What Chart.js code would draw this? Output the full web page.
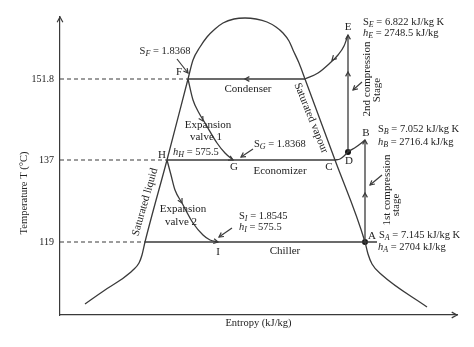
<!DOCTYPE html>
<html><head><meta charset="utf-8">
<script src="https://cdn.jsdelivr.net/npm/chart.js@4.4.0/dist/chart.umd.min.js"></script>
<style>html,body{margin:0;padding:0;background:#fff}</style>
</head><body>
<canvas id="c" width="474" height="347"></canvas>
<script>
// Schematic T–s diagram (schematic units: entropy axis 0–397, temperature axis 0–298)
const tempTickPos = [73, 155, 236];
const tempTickLabels = ['119', '137', '151.8'];

// saturation dome (saturated liquid -> critical region -> saturated vapour)
const domeS = [25, 45, 62, 73, 79, 82, 85, 107, 128, 133, 140, 147, 155, 163, 174, 185, 196, 207, 216, 223, 229, 233, 239, 245, 275, 305, 308, 312, 322, 367];
const domeT = [11, 25, 36, 45, 52, 60, 73, 155, 236, 255, 268, 278, 286, 292, 296, 297, 296, 293, 288, 282, 274, 265, 252, 236, 155, 73, 61, 51, 40, 8];

// process lines
const condenserS = [128, 245];   const condenserT = [236, 236];
const economizerS = [107, 275];  const economizerT = [155, 155];
const chillerS = [85, 317];      const chillerT = [73, 73];
const valve1S = [128, 133, 139, 145, 157, 165, 173];
const valve1T = [236, 215, 202, 192, 172, 162, 155];
const valve2S = [107, 111, 115, 122, 133, 143, 150, 158];
const valve2T = [155, 140, 125, 112, 92, 80, 75, 73];
const mixS = [275, 280, 284, 288, 296, 305];
const mixT = [155, 156, 159, 163, 168, 175];
const desupS = [245, 258, 270, 278, 284, 288];
const desupT = [236, 242, 252, 260, 269, 280];
const comp2S = [288, 288]; const comp2T = [163, 280];
const comp1S = [305, 305]; const comp1T = [73, 175];
const dotS = [288, 305];   const dotT = [163, 73];

const LINE = '#3a3a3a';
const SERIF = '"Liberation Serif", "Times New Roman", serif';
const pts = (xs, ys) => xs.map((v, i) => ({x: v, y: ys[i]}));
const line = (xs, ys, extra) => Object.assign({
  data: pts(xs, ys), showLine: true, pointRadius: 0, borderColor: LINE,
  borderWidth: 1.3, tension: 0, fill: false
}, extra || {});
const curve = {cubicInterpolationMode: 'monotone'};
const dash = {borderDash: [4, 3], borderWidth: 1.1};

function head(ctx, x, y, dx, dy, size) {
  const a = Math.atan2(dy, dx), s = size || 5;
  ctx.beginPath();
  ctx.moveTo(x - s * Math.cos(a - 0.5), y - s * Math.sin(a - 0.5));
  ctx.lineTo(x, y);
  ctx.lineTo(x - s * Math.cos(a + 0.5), y - s * Math.sin(a + 0.5));
  ctx.stroke();
}
function rich(ctx, parts, x, y, align, size) {
  const fnt = (p) => (p[1] === 's' ? 'italic ' + Math.round(size * 0.72) : (p[1] === 'i' ? 'italic ' + size : size)) + 'px ' + SERIF;
  let w = 0;
  parts.forEach(p => { ctx.font = fnt(p); w += ctx.measureText(p[0]).width; });
  let cx = align === 'center' ? x - w / 2 : (align === 'right' ? x - w : x);
  ctx.textAlign = 'left';
  parts.forEach(p => {
    ctx.font = fnt(p);
    ctx.fillText(p[0], cx, y + (p[1] === 's' ? 3 : 0));
    cx += ctx.measureText(p[0]).width;
  });
}

const annot = {
  id: 'annot',
  afterDatasetsDraw(chart) {
    const ctx = chart.ctx, xs = chart.scales.x, ys = chart.scales.y;
    const X = v => xs.getPixelForValue(v), Y = v => ys.getPixelForValue(v);
    const ca = chart.chartArea;
    ctx.save();
    ctx.strokeStyle = LINE; ctx.fillStyle = '#222'; ctx.lineWidth = 1.2;
    // axis arrows
    head(ctx, ca.left, ca.top, 0, -1, 6);
    head(ctx, ca.right, ca.bottom, 1, 0, 6);
    // flow arrowheads
    head(ctx, X(185), Y(236), -1, 0, 5);
    head(ctx, X(272), Y(255), -1, 1, 5);
    head(ctx, X(288), Y(280), 0, -1, 5);
    head(ctx, X(288), Y(243), 0, -1, 5);
    head(ctx, X(305), Y(122), 0, -1, 5);
    head(ctx, X(305), Y(175), 0, -1, 5);
    head(ctx, X(143), Y(194), 6, 10, 5);
    head(ctx, X(173), Y(155), 1, 0.5, 5);
    head(ctx, X(122), Y(112), 7, 13, 5);
    head(ctx, X(158), Y(73), 1, 0.2, 5);
    // pointer arrows
    const ptr = (a, b, c, d) => {
      ctx.beginPath(); ctx.moveTo(X(a), Y(b)); ctx.lineTo(X(c), Y(d)); ctx.stroke();
      head(ctx, X(c), Y(d), X(c) - X(a), Y(d) - Y(b), 5);
    };
    ptr(117, 256, 128, 242);
    ptr(193, 166, 181, 158);
    ptr(172, 87, 159, 78);
    ptr(302, 233, 293, 225);
    ptr(322, 140, 310, 130);
    ctx.textBaseline = 'middle';
    const sz = 10.5;
    const T = (t, a, b, align, size, style) => {
      ctx.font = (style || '') + ' ' + (size || 11) + 'px ' + SERIF;
      ctx.textAlign = align || 'center';
      ctx.fillText(t, X(a), Y(b));
    };
    // point letters
    T('F', 119, 243); T('H', 102, 160); T('G', 174, 148); T('C', 269, 148);
    T('D', 289, 154); T('B', 306, 182); T('E', 288, 288); T('A', 312, 79); T('I', 158, 63);
    // process names
    T('Condenser', 188, 226); T('Economizer', 220, 144); T('Chiller', 225, 64);
    T('Expansion', 148, 190); T('valve 1', 146, 178);
    T('Expansion', 123, 106); T('valve 2', 121, 93);
    // property labels
    rich(ctx, [['S'], ['F', 's'], [' = 1.8368']], X(105), Y(264), 'center', sz);
    rich(ctx, [['h', 'i'], ['H', 's'], [' = 575.5']], X(113), Y(163), 'left', sz);
    rich(ctx, [['S'], ['G', 's'], [' = 1.8368']], X(194), Y(171), 'left', sz);
    rich(ctx, [['S'], ['I', 's'], [' = 1.8545']], X(179), Y(99), 'left', sz);
    rich(ctx, [['h', 'i'], ['I', 's'], [' = 575.5']], X(179), Y(88), 'left', sz);
    rich(ctx, [['S'], ['E', 's'], [' = 6.822 kJ/kg K']], X(303), Y(293), 'left', sz);
    rich(ctx, [['h', 'i'], ['E', 's'], [' = 2748.5 kJ/kg']], X(303), Y(282), 'left', sz);
    rich(ctx, [['S'], ['B', 's'], [' = 7.052 kJ/kg K']], X(318), Y(186), 'left', sz);
    rich(ctx, [['h', 'i'], ['B', 's'], [' = 2716.4 kJ/kg']], X(318), Y(173), 'left', sz);
    rich(ctx, [['S'], ['A', 's'], [' = 7.145 kJ/kg K']], X(319), Y(80), 'left', sz);
    rich(ctx, [['h', 'i'], ['A', 's'], [' = 2704 kJ/kg']], X(318), Y(68), 'left', sz);
    // rotated texts
    const R = (t, a, b, ang, size) => {
      ctx.save(); ctx.translate(X(a), Y(b)); ctx.rotate(ang * Math.PI / 180);
      ctx.font = (size || 11) + 'px ' + SERIF; ctx.textAlign = 'center';
      ctx.fillText(t, 0, 0); ctx.restore();
    };
    R('Saturated liquid', 85, 113, -74);
    R('Saturated vapour', 251, 197, 68);
    R('2nd compression', 307, 236, -90);
    R('Stage', 317, 225, -90);
    R('1st compression', 327, 125, -90);
    R('stage', 336, 110, -90);
    // y axis title
    ctx.save(); ctx.translate(24, 193); ctx.rotate(-Math.PI / 2);
    ctx.font = '10.5px ' + SERIF; ctx.textAlign = 'center';
    ctx.fillText('Temperature T (°C)', 0, 0); ctx.restore();
    ctx.restore();
  }
};

new Chart(document.getElementById('c'), {
  type: 'scatter',
  data: {
    datasets: [
      line(domeS, domeT, curve),
      line(condenserS, condenserT), line(economizerS, economizerT), line(chillerS, chillerT),
      line([0, condenserS[0]], [tempTickPos[2], tempTickPos[2]], dash),
      line([0, economizerS[0]], [tempTickPos[1], tempTickPos[1]], dash),
      line([0, chillerS[0]], [tempTickPos[0], tempTickPos[0]], dash),
      line(valve1S, valve1T, curve), line(valve2S, valve2T, curve),
      line(mixS, mixT, curve), line(desupS, desupT, curve),
      line(comp2S, comp2T), line(comp1S, comp1T),
      {data: pts(dotS, dotT), showLine: false, pointRadius: 3, pointBackgroundColor: '#111', pointBorderWidth: 0}
    ]
  },
  options: {
    responsive: false, devicePixelRatio: 1, animation: false,
    layout: {padding: {top: 17, right: 17, left: 0, bottom: 0}},
    plugins: {legend: {display: false}, tooltip: {enabled: false}},
    scales: {
      x: {
        type: 'linear', min: 0, max: 397,
        grid: {display: false, drawTicks: false},
        border: {display: true, color: LINE, width: 1.2},
        ticks: {display: false},
        title: {display: true, text: 'Entropy (kJ/kg)', color: '#222', font: {family: SERIF, size: 10.5}, padding: {top: 0, bottom: 17}},
        afterFit: s => { s.height = 32; }
      },
      y: {
        type: 'linear', min: 0, max: 298,
        grid: {display: false, drawTicks: false},
        border: {display: true, color: LINE, width: 1.2},
        afterBuildTicks: s => { s.ticks = tempTickPos.map(v => ({value: v})); },
        ticks: {
          padding: 6, color: '#222', font: {family: SERIF, size: 10},
          autoSkip: false,
          callback: v => tempTickLabels[tempTickPos.indexOf(v)]
        },
        afterFit: s => { s.width = 60; }
      }
    }
  },
  plugins: [annot]
});
</script>
</body></html>
